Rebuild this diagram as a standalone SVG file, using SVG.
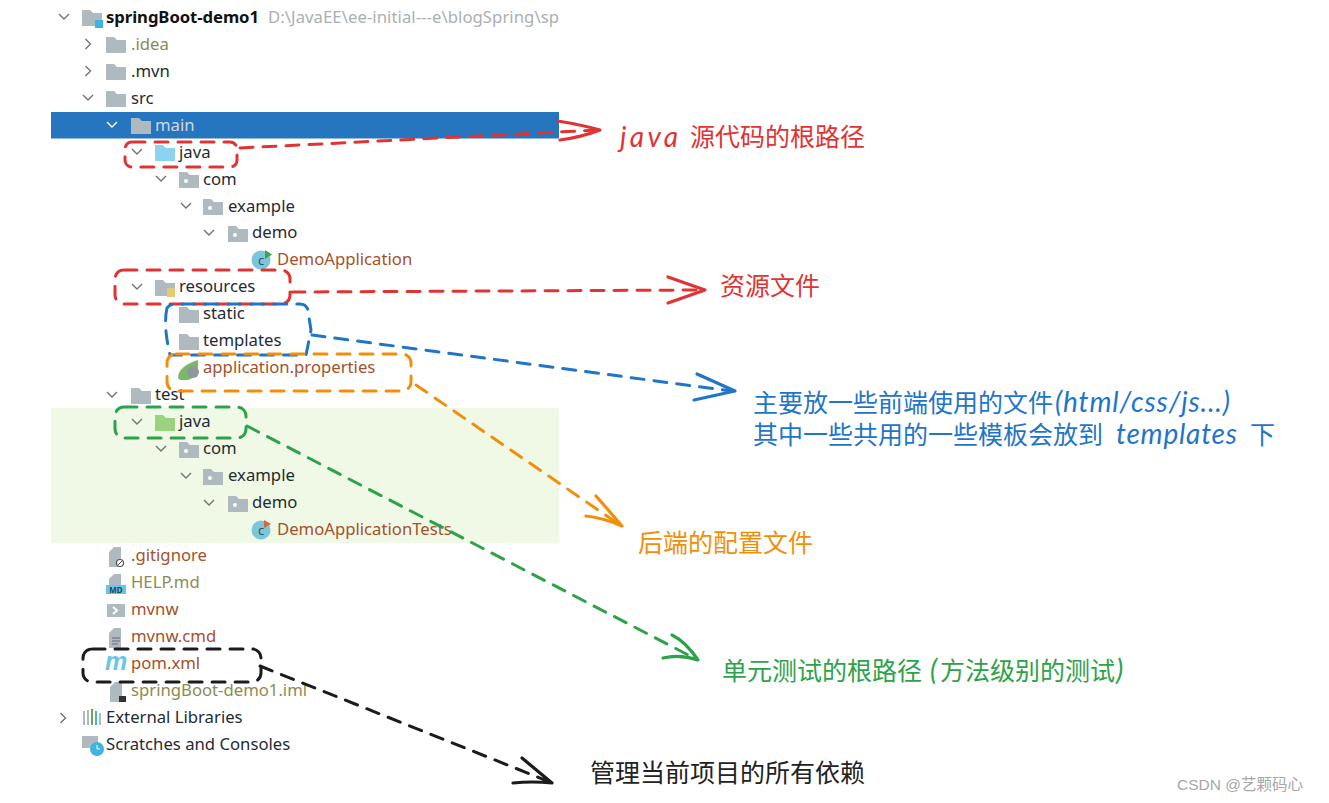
<svg xmlns="http://www.w3.org/2000/svg" width="1329" height="803" viewBox="0 0 1329 803">
<style>
text{font-family:"Noto Sans","Noto Sans CJK SC",sans-serif;white-space:pre}
.t{font-size:16.700px;fill:#1f2b33}
.b{font-weight:700;fill:#111}
.o{fill:#8b8b52}.r{fill:#a4512a}.g{fill:#aab0b3}.w{fill:#cfd8e0}
.c{fill:none;stroke:#6e7478;stroke-width:1.4}
.f{fill:#aeb9c0}
.d{fill:none;stroke-width:3;stroke-dasharray:13 10;stroke-linecap:round}
.h{fill:none;stroke-width:3.200;stroke-linecap:round;stroke-linejoin:round}
.cn{font-family:"Noto Sans CJK SC",sans-serif;font-size:25px}
.la{font-family:"Lato","Noto Sans",sans-serif;font-style:italic;font-size:28px}
.red{stroke:#e03434}.blue{stroke:#1f75c8}.org{stroke:#f18f0a}.grn{stroke:#2ea24a}.blk{stroke:#1b1b1b}
.tr{fill:#e03434}.tb{fill:#1f75c8}.to{fill:#f18f0a}.tg{fill:#2ea24a}.tk{fill:#222}
</style>
<defs>
<symbol id="fold" viewBox="0 0 20 16" width="20" height="16"><path d="M0 0h8l3 3h9v13H0z"/></symbol>
<symbol id="pkg" viewBox="0 0 20 16" width="20" height="16"><path d="M0 0h8l3 3h9v13H0z" fill="#aeb9c0"/><circle cx="7" cy="9" r="2" fill="#fff"/></symbol>
<symbol id="file" viewBox="0 0 16 20" width="16" height="20"><path d="M6 0h7v20H1V5z" fill="#aeb9c0"/></symbol>
<path id="cd" d="M-5 -3L0 2L5 -3"/>
<path id="cr" d="M-2.500 -5L2.500 0L-2.500 5"/>
</defs>
<rect width="1329" height="803" fill="#fff"/>
<g id="selection-bar"><rect x="51" y="112" width="508" height="26.500" fill="#2675bf"/></g>
<g id="test-highlight"><rect x="51" y="408" width="508" height="135" fill="#eff9e6"/></g>

<g id="root"><use href="#cd" x="64" y="17" class="c"/><use href="#fold" x="82" y="10" class="f"/><rect x="95" y="20" width="8" height="8" fill="#3fb4e2"/><text x="106" y="23" class="t b" textLength="153">springBoot-demo1</text><text x="268" y="23" class="t g" textLength="291">D:\JavaEE\ee-initial---e\blogSpring\sp</text></g>
<g id="idea"><use href="#cr" x="88" y="44" class="c"/><use href="#fold" x="106" y="37" class="f"/><text x="131" y="50" class="t o">.idea</text></g>
<g id="mvn"><use href="#cr" x="88" y="71" class="c"/><use href="#fold" x="106" y="64" class="f"/><text x="131" y="77" class="t">.mvn</text></g>
<g id="src"><use href="#cd" x="88" y="98" class="c"/><use href="#fold" x="106" y="91" class="f"/><text x="131" y="104" class="t">src</text></g>
<g id="main"><use href="#cd" x="112" y="125" class="c" style="stroke:#fff"/><use href="#fold" x="131" y="118" class="f"/><text x="155" y="131" class="t w">main</text></g>
<g id="java-main"><use href="#cd" x="137" y="152" class="c"/><use href="#fold" x="155" y="145" fill="#8bd3ef"/><text x="179" y="158" class="t">java</text></g>
<g id="com-main"><use href="#cd" x="161" y="179" class="c"/><use href="#pkg" x="179" y="172"/><text x="203" y="185" class="t">com</text></g>
<g id="example-main"><use href="#cd" x="186" y="206" class="c"/><use href="#pkg" x="203" y="199"/><text x="228" y="212" class="t">example</text></g>
<g id="demo-main"><use href="#cd" x="209" y="233" class="c"/><use href="#pkg" x="228" y="226"/><text x="252" y="238" class="t">demo</text></g>
<g id="demoapp"><circle cx="261" cy="260" r="9.500" fill="#7cc6dc"/><text x="261" y="265" font-size="13" text-anchor="middle" fill="#33505c">c</text><path d="M265 250l7 4.500-7 4.500z" fill="#3fa34d"/><text x="277" y="265" class="t r">DemoApplication</text></g>
<g id="resources"><use href="#cd" x="137" y="287" class="c"/><use href="#fold" x="155" y="280" class="f"/><rect x="167" y="288" width="8" height="9" fill="#e8c877"/><text x="179" y="292" class="t">resources</text></g>
<g id="static"><use href="#fold" x="179" y="307" class="f"/><text x="203" y="319" class="t">static</text></g>
<g id="templates"><use href="#fold" x="179" y="334" class="f"/><text x="203" y="346" class="t">templates</text></g>
<g id="appprops"><path d="M178 378c0-9 8-14 20-18c1 10-2 18-10 20h-8z" fill="#7db76b"/><circle cx="193" cy="372" r="6" fill="#8d979c"/><text x="203" y="373" class="t r">application.properties</text></g>
<g id="test"><use href="#cd" x="112" y="395" class="c"/><use href="#fold" x="131" y="388" class="f"/><text x="155" y="400" class="t">test</text></g>
<g id="java-test"><use href="#cd" x="137" y="422" class="c"/><use href="#fold" x="155" y="415" fill="#9bd27f"/><text x="179" y="427" class="t">java</text></g>
<g id="com-test"><use href="#cd" x="161" y="449" class="c"/><use href="#pkg" x="179" y="442"/><text x="203" y="454" class="t">com</text></g>
<g id="example-test"><use href="#cd" x="186" y="476" class="c"/><use href="#pkg" x="203" y="469"/><text x="228" y="481" class="t">example</text></g>
<g id="demo-test"><use href="#cd" x="209" y="503" class="c"/><use href="#pkg" x="228" y="496"/><text x="252" y="508" class="t">demo</text></g>
<g id="demotests"><circle cx="261" cy="530" r="9.500" fill="#7cc6dc"/><text x="261" y="535" font-size="13" text-anchor="middle" fill="#33505c">c</text><path d="M264 520l7 4-7 4z" fill="#d9663a"/><text x="277" y="535" class="t r">DemoApplicationTests</text></g>
<g id="gitignore"><use href="#file" x="108" y="547"/><circle cx="120" cy="563" r="3.500" fill="#fff" stroke="#555" stroke-width="1.200"/><path d="M118 565l4-4" stroke="#555"/><text x="131" y="561" class="t r">.gitignore</text></g>
<g id="help"><use href="#file" x="108" y="574"/><rect x="106" y="585" width="20" height="9" fill="#6ac4e6"/><text x="116" y="593" font-size="8" font-weight="700" text-anchor="middle" fill="#245">MD</text><text x="131" y="588" class="t o">HELP.md</text></g>
<g id="mvnw"><rect x="107" y="604" width="18" height="13" fill="#aeb9c0"/><path d="M113 607l4 3.500-4 3.500" fill="none" stroke="#fff" stroke-width="2"/><text x="131" y="615" class="t r">mvnw</text></g>
<g id="mvnwcmd"><use href="#file" x="108" y="628"/><path d="M112 638h8M112 641h8M112 644h6" stroke="#667" stroke-width="1"/><text x="131" y="642" class="t r">mvnw.cmd</text></g>
<g id="pom"><text x="105" y="670" font-size="25" font-weight="700" font-style="italic" fill="#6cc5e8" style="font-family:'Liberation Sans',sans-serif">m</text><text x="131" y="669" class="t r">pom.xml</text></g>
<g id="iml"><use href="#file" x="109" y="682"/><rect x="119" y="696" width="7" height="6" fill="#333"/><text x="131" y="696" class="t o">springBoot-demo1.iml</text></g>
<g id="external"><use href="#cr" x="63" y="718" class="c"/><path d="M84 711v14" stroke="#aeb9c0" stroke-width="2"/><path d="M88 710v15" stroke="#aeb9c0" stroke-width="2"/><path d="M92 709v16" stroke="#6aa84f" stroke-width="2"/><path d="M96 711v14" stroke="#3fb4e2" stroke-width="2"/><path d="M100 713v12" stroke="#aeb9c0" stroke-width="2"/><text x="106" y="723" class="t">External Libraries</text></g>
<g id="scratches"><path d="M82 736h16v12H82z" fill="#aeb9c0"/><circle cx="97" cy="749" r="7" fill="#3fb4e2"/><path d="M97 745v4h3" stroke="#fff" fill="none"/><text x="106" y="750" class="t">Scratches and Consoles</text></g>

<g id="connectors">
<rect class="d red" x="125" y="142" width="112" height="25" rx="7"/>
<path class="d red" d="M240 148L598 130"/>
<path class="h red" d="M558 121Q582 125 600 130Q582 137 560 140"/>
<rect class="d red" x="115" y="270" width="175" height="34" rx="9"/>
<path class="d red" d="M292 292L702 290"/>
<path class="h red" d="M668 277L705 290L668 303"/>
<path class="d blue" d="M167 308Q163 325 170 355H306L311 330Q309 318 308 310Q306 304 300 304H176Q170 304 167 308"/>
<path class="d blue" d="M312 335L731 391"/>
<path class="h blue" d="M697 374L735 391L694 400"/>
<rect class="d org" x="167" y="354" width="244" height="37" rx="9"/>
<path class="d org" d="M416 385L620 525"/>
<path class="h org" d="M596 496Q610 512 622 526Q604 518 586 516"/>
<rect class="d grn" x="115" y="407" width="131" height="31" rx="9"/>
<path class="d grn" d="M247 426L696 659"/>
<path class="h grn" d="M672 635Q686 642 698 660Q680 654 663 658"/>
<rect class="d blk" x="83" y="649" width="178" height="33" rx="9"/>
<path class="d blk" d="M260 666L550 782"/>
<path class="h blk" d="M522 758L552 783Q532 781 513 783"/>
</g>

<g id="label-java-root"><text x="620" y="147" class="la tr" textLength="58">java</text><text x="690" y="146" class="cn tr">源代码的根路径</text></g>
<g id="label-resources"><text x="720" y="295" class="cn tr">资源文件</text></g>
<g id="label-static"><text x="753" y="412" class="cn tb">主要放一些前端使用的文件</text><text x="1055" y="412" class="la tb" textLength="175">(html/css/js...)</text><text x="753" y="444" class="cn tb">其中一些共用的一些模板会放到</text><text x="1116" y="444" class="la tb" textLength="121">templates</text><text x="1250" y="444" class="cn tb">下</text></g>
<g id="label-props"><text x="638" y="552" class="cn to">后端的配置文件</text></g>
<g id="label-test"><text x="722" y="680" class="cn tg">单元测试的根路径</text><text x="930" y="680" class="la tg">(</text><text x="940" y="680" class="cn tg">方法级别的测试</text><text x="1116" y="680" class="la tg">)</text></g>
<g id="label-pom"><text x="590" y="782" class="cn tk">管理当前项目的所有依赖</text></g>
<text x="1177" y="790" font-size="15.500" fill="#a8a8a8" style="font-family:'Liberation Sans','Noto Sans CJK SC',sans-serif">CSDN @艺颗码心</text>
</svg>
